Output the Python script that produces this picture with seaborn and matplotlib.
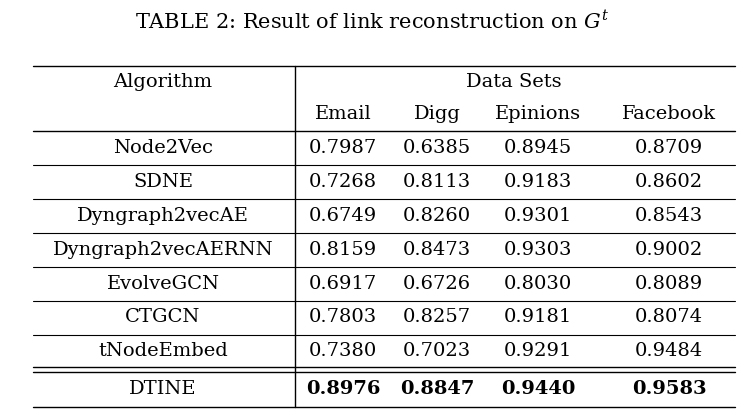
import matplotlib
matplotlib.use("Agg")
import matplotlib.pyplot as plt
import seaborn as sns

sns.set_theme(style="white")
plt.rcParams['font.family'] = ['DejaVu Serif']
plt.rcParams['mathtext.fontset'] = 'dejavuserif'
plt.rcParams['text.color'] = 'black'

algorithms = ["Node2Vec", "SDNE", "Dyngraph2vecAE", "Dyngraph2vecAERNN",
              "EvolveGCN", "CTGCN", "tNodeEmbed"]
datasets = ["Email", "Digg", "Epinions", "Facebook"]
values = [
    ["0.7987", "0.6385", "0.8945", "0.8709"],
    ["0.7268", "0.8113", "0.9183", "0.8602"],
    ["0.6749", "0.8260", "0.9301", "0.8543"],
    ["0.8159", "0.8473", "0.9303", "0.9002"],
    ["0.6917", "0.6726", "0.8030", "0.8089"],
    ["0.7803", "0.8257", "0.9181", "0.8074"],
    ["0.7380", "0.7023", "0.9291", "0.9484"],
]
ours = "DTINE"
ours_values = ["0.8976", "0.8847", "0.9440", "0.9583"]

fig = plt.figure(figsize=(7.45, 4.17), dpi=100)
ax = fig.add_axes([0, 0, 1, 1])
ax.set_xlim(0, 745)
ax.set_ylim(417, 0)
ax.axis("off")

fs = 14
kw = dict(ha="center", va="center", fontsize=fs, color="black")
ax.text(372, 22, "TABLE 2: Result of link reconstruction on $G^t$", ha="center", va="center", fontsize=15, color="black")

col_x = [343, 437, 538, 669]
alg_x = 163
L, R = 33, 735
lw = 1.0
ax.plot([L, R], [66, 66], color="black", lw=lw)
ax.plot([295, 295], [66, 407], color="black", lw=lw)
ax.text(alg_x, 82, "Algorithm", **kw)
ax.text(514, 82, "Data Sets", **kw)
for x, d in zip(col_x, datasets):
    ax.text(x, 114, d, **kw)
ax.plot([L, R], [131, 131], color="black", lw=lw)

row_y0, dy = 148, 33.9
for i, (a, vals) in enumerate(zip(algorithms, values)):
    y = row_y0 + i * dy
    ax.text(alg_x, y, a, **kw)
    for x, v in zip(col_x, vals):
        ax.text(x, y, v, **kw)
    if i < len(algorithms) - 1:
        ax.plot([L, R], [y + 17, y + 17], color="black", lw=0.8)
ax.plot([L, R], [367, 367], color="black", lw=lw)
ax.plot([L, R], [372, 372], color="black", lw=lw)
ax.text(alg_x, 389, ours, **kw)
for x, v in zip(col_x, ours_values):
    ax.text(x, 389, v, fontweight="bold", **kw)
ax.plot([L, R], [407, 407], color="black", lw=lw)

fig.savefig("out.png", dpi=100, facecolor="white")
